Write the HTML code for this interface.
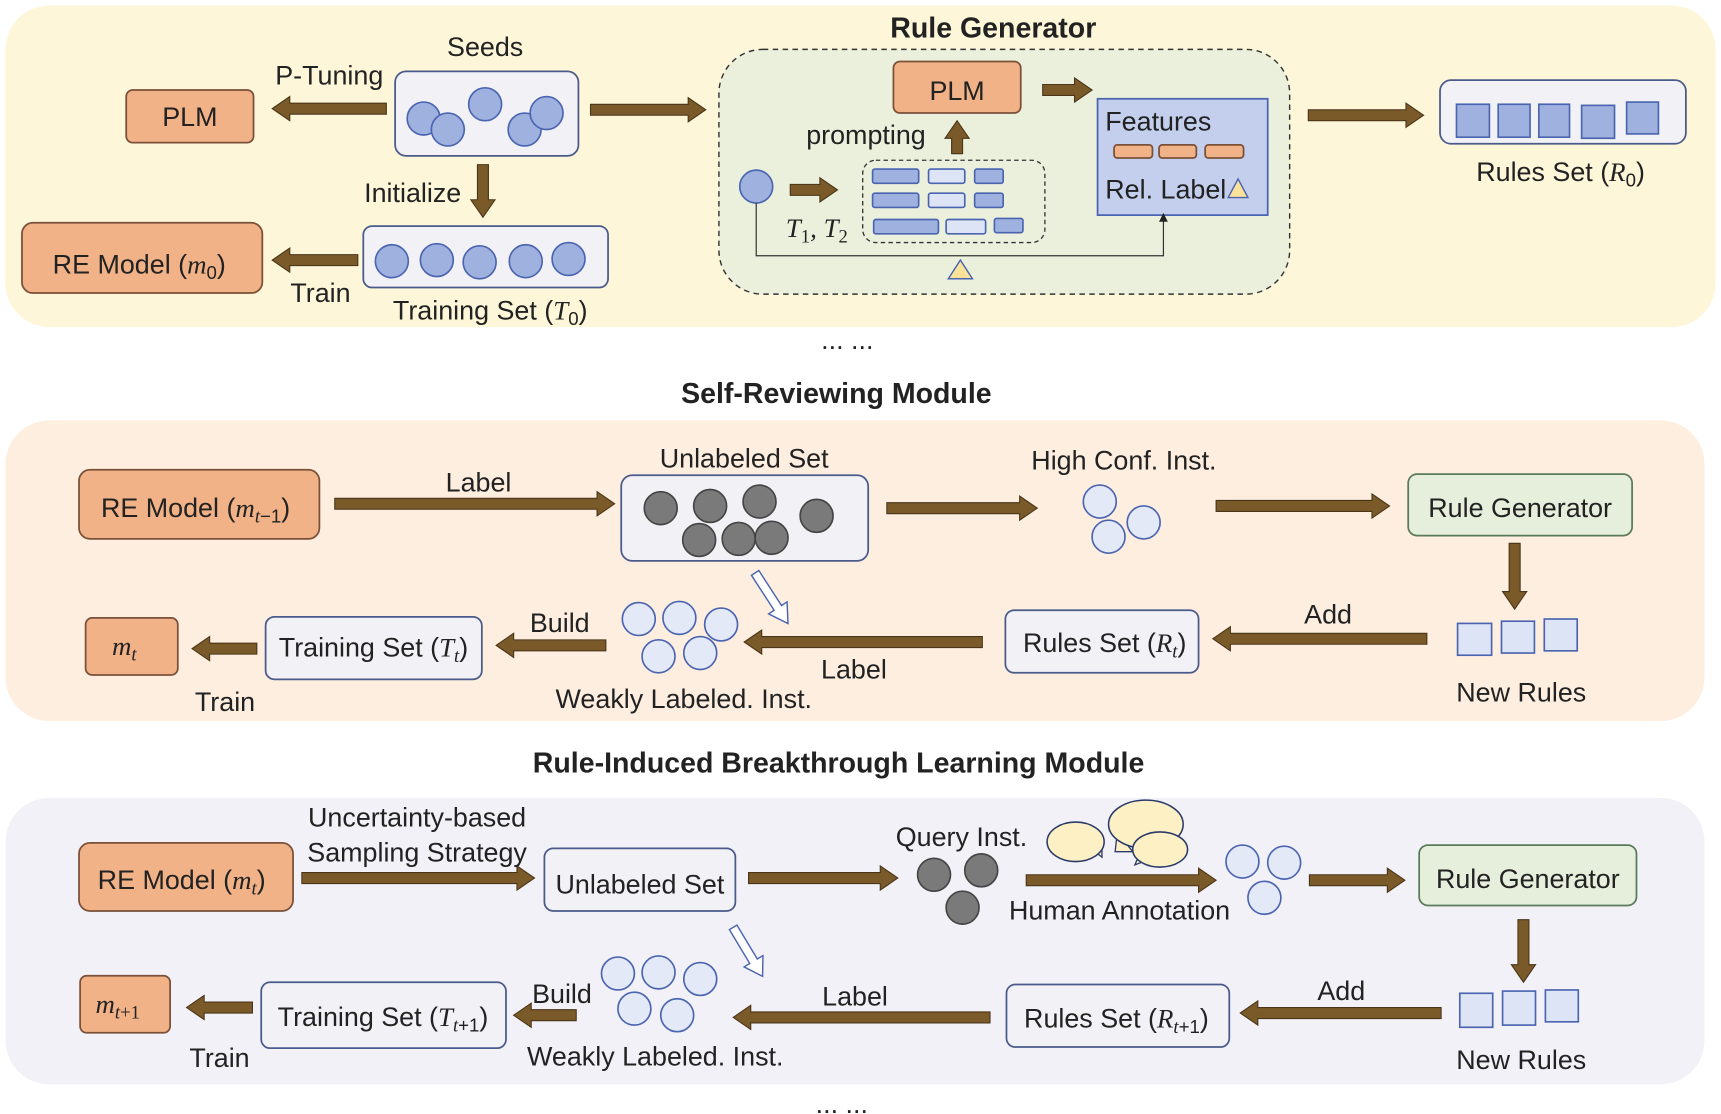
<!DOCTYPE html>
<html><head><meta charset="utf-8"><style>
html,body{margin:0;padding:0;background:#fff;}
svg{display:block;}
text{font-family:"Liberation Sans",sans-serif;font-size:24.5px;fill:#222;}
.b{font-weight:bold;font-size:26px;}
.m{font-family:"Liberation Serif",serif;font-style:italic;}
.ar{fill:#7b5a2a;stroke:#4a3518;stroke-width:1;}
.box{fill:#f2f2f6;stroke:#4a5a8a;stroke-width:1.6;}
.or{fill:#f2b287;stroke:#7a5038;stroke-width:1.6;}
.rg{fill:#e6efdc;stroke:#5a7a5a;stroke-width:1.6;}
.c{fill:#9fb1df;stroke:#4a64b0;stroke-width:1.5;}
.lc{fill:#e4e9f8;stroke:#4a64b0;stroke-width:1.5;}
.dc{fill:#7a7a7a;stroke:#444;stroke-width:1.5;}
.sq{fill:#9fb1df;stroke:#4a64b0;stroke-width:1.5;}
.lsq{fill:#dde4f5;stroke:#4a64b0;stroke-width:1.5;}
</style></head><body>
<svg width="1721" height="1114" viewBox="0 0 1568 1015" preserveAspectRatio="none" xmlns="http://www.w3.org/2000/svg">
<!-- Panel 1 -->
<rect x="5" y="5" width="1558" height="293" rx="40" fill="#fdf6d8"/>
<rect x="655" y="45" width="520" height="223" rx="40" fill="#eaf0dc" stroke="#333" stroke-width="1.3" stroke-dasharray="5,4"/>
<text x="905" y="34" text-anchor="middle" class="b">Rule Generator</text>
<text x="442" y="51" text-anchor="middle">Seeds</text>
<rect x="360" y="65" width="167" height="77" rx="10" class="box"/>
<circle cx="386" cy="108" r="15" class="c"/><circle cx="408" cy="118" r="15" class="c"/><circle cx="442" cy="95" r="15" class="c"/><circle cx="478" cy="118" r="15" class="c"/><circle cx="498" cy="103" r="15" class="c"/>
<rect x="115" y="82" width="116" height="48" rx="6" class="or"/><text x="173" y="115" text-anchor="middle">PLM</text>
<polygon class="ar" points="352,94 264,94 264,88 248,99 264,110 264,104 352,104"/>
<text x="300" y="77" text-anchor="middle">P-Tuning</text>
<polygon class="ar" points="538,95 627,95 627,89 643,100 627,111 627,105 538,105"/>
<polygon class="ar" points="435,150 435,182 429,182 440,198 451,182 445,182 445,150"/>
<text x="376" y="184" text-anchor="middle">Initialize</text>
<rect x="331" y="206" width="223" height="56" rx="8" class="box"/>
<circle cx="357" cy="238" r="15" class="c"/><circle cx="398" cy="237" r="15" class="c"/><circle cx="437" cy="239" r="15" class="c"/><circle cx="479" cy="238" r="15" class="c"/><circle cx="518" cy="236" r="15" class="c"/>
<rect x="20" y="203" width="219" height="64" rx="10" class="or"/>
<text x="48" y="249">RE Model (<tspan class="m">m</tspan><tspan font-size="17" dy="5">0</tspan><tspan dy="-5">)</tspan></text>
<polygon class="ar" points="326,232 264,232 264,226 248,237 264,248 264,242 326,242"/>
<text x="292" y="275" text-anchor="middle">Train</text>
<text x="358" y="291">Training Set (<tspan class="m">T</tspan><tspan font-size="17" dy="5">0</tspan><tspan dy="-5">)</tspan></text>
<!-- inside generator -->
<rect x="814" y="56" width="116" height="47" rx="6" class="or"/><text x="872" y="91" text-anchor="middle">PLM</text>
<polygon class="ar" points="950,77 979,77 979,71 995,82 979,93 979,87 950,87"/>
<rect x="1000" y="90" width="155" height="106" fill="#c4cfee" stroke="#4a64b0" stroke-width="1.6"/>
<text x="1007" y="119">Features</text>
<rect x="1015" y="132" width="35" height="12" rx="3" class="or"/><rect x="1056" y="132" width="34" height="12" rx="3" class="or"/><rect x="1098" y="132" width="35" height="12" rx="3" class="or"/>
<text x="1007" y="181">Rel. Label</text>
<polygon points="1119,180 1128,163 1137,180" fill="#fbe29a" stroke="#4a64b0" stroke-width="1.3"/>
<polygon class="ar" points="867,140 867,126 861,126 872,110 883,126 877,126 877,140"/>
<text x="789" y="131" text-anchor="middle">prompting</text>
<circle cx="689" cy="170" r="15" class="c"/>
<polygon class="ar" points="720,168 747,168 747,162 763,173 747,184 747,178 720,178"/>
<text x="716" y="216" class="m">T<tspan font-size="17" dy="5" font-style="normal">1</tspan><tspan dy="-5">, T</tspan><tspan font-size="17" dy="5" font-style="normal">2</tspan></text>
<rect x="786" y="146" width="166" height="75" rx="12" fill="none" stroke="#333" stroke-width="1.2" stroke-dasharray="4,3"/>
<rect x="795" y="154" width="42" height="13" rx="2" class="sq"/><rect x="846" y="154" width="33" height="13" rx="2" class="lsq"/><rect x="888" y="154" width="26" height="13" rx="2" class="sq"/>
<rect x="795" y="176" width="42" height="13" rx="2" class="sq"/><rect x="846" y="176" width="33" height="13" rx="2" class="lsq"/><rect x="888" y="176" width="26" height="13" rx="2" class="sq"/>
<rect x="796" y="200" width="59" height="13" rx="2" class="sq"/><rect x="862" y="200" width="36" height="13" rx="2" class="lsq"/><rect x="906" y="199" width="26" height="13" rx="2" class="sq"/>
<polyline points="689,185 689,233 1060,233 1060,200" fill="none" stroke="#333" stroke-width="1.1"/>
<polygon points="1056,202 1060,194 1064,202" fill="#222"/>
<polygon points="864,254 875,237 886,254" fill="#fbe29a" stroke="#4a64b0" stroke-width="1.3"/>
<polygon class="ar" points="1192,100 1281,100 1281,94 1297,105 1281,116 1281,110 1192,110"/>
<rect x="1312" y="73" width="224" height="58" rx="10" class="box"/>
<rect x="1327" y="95" width="30" height="30" class="sq"/><rect x="1365" y="95" width="29" height="30" class="sq"/><rect x="1402" y="95" width="28" height="30" class="sq"/><rect x="1441" y="96" width="30" height="30" class="sq"/><rect x="1482" y="93" width="29" height="29" class="sq"/>
<text x="1345" y="165">Rules Set (<tspan class="m">R</tspan><tspan font-size="17" dy="5">0</tspan><tspan dy="-5">)</tspan></text>
<text x="772" y="318" text-anchor="middle">... ...</text>
<!-- Panel 2 -->
<text x="762" y="367" text-anchor="middle" class="b">Self-Reviewing Module</text>
<rect x="5" y="383" width="1548" height="274" rx="40" fill="#fdeee0"/>
<rect x="72" y="428" width="219" height="63" rx="10" class="or"/>
<text x="92" y="471">RE Model (<tspan class="m">m</tspan><tspan font-size="17" dy="5" class="m">t</tspan><tspan font-size="17">−1</tspan><tspan dy="-5">)</tspan></text>
<polygon class="ar" points="305,454 544,454 544,448 560,459 544,470 544,464 305,464"/>
<text x="436" y="448" text-anchor="middle">Label</text>
<text x="678" y="426" text-anchor="middle">Unlabeled Set</text>
<rect x="566" y="433" width="225" height="78" rx="10" class="box"/>
<circle cx="602" cy="463" r="15" class="dc"/><circle cx="647" cy="461" r="15" class="dc"/><circle cx="692" cy="457" r="15" class="dc"/><circle cx="744" cy="470" r="15" class="dc"/><circle cx="637" cy="492" r="15" class="dc"/><circle cx="673" cy="491" r="15" class="dc"/><circle cx="703" cy="490" r="15" class="dc"/>
<polygon class="ar" points="808,458 929,458 929,452 945,463 929,474 929,468 808,468"/>
<text x="1024" y="428" text-anchor="middle">High Conf. Inst.</text>
<circle cx="1002" cy="457" r="15" class="lc"/><circle cx="1042" cy="476" r="15" class="lc"/><circle cx="1010" cy="489" r="15" class="lc"/>
<polygon class="ar" points="1108,456 1250,456 1250,450 1266,461 1250,472 1250,466 1108,466"/>
<rect x="1283" y="432" width="204" height="56" rx="8" class="rg"/><text x="1385" y="471" text-anchor="middle">Rule Generator</text>
<polygon class="ar" points="1375,495 1375,539 1369,539 1380,555 1391,539 1385,539 1385,495"/>
<rect x="1328" y="568" width="31" height="29" class="lsq"/><rect x="1368" y="566" width="30" height="29" class="lsq"/><rect x="1407" y="564" width="30" height="29" class="lsq"/>
<text x="1386" y="639" text-anchor="middle">New Rules</text>
<polygon class="ar" points="1300,577 1121,577 1121,571 1105,582 1121,593 1121,587 1300,587"/>
<text x="1210" y="568" text-anchor="middle">Add</text>
<rect x="916" y="556" width="176" height="57" rx="8" class="box"/>
<text x="932" y="594">Rules Set (<tspan class="m">R</tspan><tspan font-size="17" dy="5" class="m">t</tspan><tspan dy="-5">)</tspan></text>
<polygon class="ar" points="895,580 694,580 694,574 678,585 694,596 694,590 895,590"/>
<text x="778" y="618" text-anchor="middle">Label</text>
<g transform="translate(688,522) rotate(57)"><polygon points="0,-4 38,-4 38,-10 55,0 38,10 38,4 0,4" fill="#fff" stroke="#4a64b0" stroke-width="1.3"/></g>
<circle cx="582" cy="564" r="15" class="lc"/><circle cx="619" cy="563" r="15" class="lc"/><circle cx="657" cy="569" r="15" class="lc"/><circle cx="600" cy="598" r="15" class="lc"/><circle cx="638" cy="595" r="15" class="lc"/>
<text x="623" y="645" text-anchor="middle">Weakly Labeled. Inst.</text>
<polygon class="ar" points="552,583 468,583 468,577 452,588 468,599 468,593 552,593"/>
<text x="510" y="576" text-anchor="middle">Build</text>
<rect x="242" y="562" width="197" height="57" rx="8" class="box"/>
<text x="254" y="598">Training Set (<tspan class="m">T</tspan><tspan font-size="17" dy="5" class="m">t</tspan><tspan dy="-5">)</tspan></text>
<polygon class="ar" points="234,586 191,586 191,580 175,591 191,602 191,596 234,596"/>
<rect x="78" y="563" width="84" height="52" rx="6" class="or"/>
<text x="102" y="597" class="m">m<tspan font-size="17" dy="5">t</tspan></text>
<text x="205" y="648" text-anchor="middle">Train</text>
<!-- Panel 3 -->
<text x="764" y="704" text-anchor="middle" class="b">Rule-Induced Breakthrough Learning Module</text>
<rect x="5" y="727" width="1548" height="261" rx="40" fill="#f3f1f8"/>
<rect x="72" y="768" width="195" height="62" rx="10" class="or"/>
<text x="89" y="810">RE Model (<tspan class="m">m</tspan><tspan font-size="17" dy="5" class="m">t</tspan><tspan dy="-5">)</tspan></text>
<polygon class="ar" points="275,795 471,795 471,789 487,800 471,811 471,805 275,805"/>
<text x="380" y="753" text-anchor="middle">Uncertainty-based</text>
<text x="380" y="785" text-anchor="middle">Sampling Strategy</text>
<rect x="496" y="773" width="174" height="57" rx="8" class="box"/><text x="583" y="814" text-anchor="middle">Unlabeled Set</text>
<polygon class="ar" points="682,795 802,795 802,789 818,800 802,811 802,805 682,805"/>
<text x="876" y="771" text-anchor="middle">Query Inst.</text>
<circle cx="851" cy="797" r="15" class="dc"/><circle cx="894" cy="793" r="15" class="dc"/><circle cx="877" cy="827" r="15" class="dc"/>
<polygon points="1018,758 1016,776 1032,776" fill="#fcf0c4" stroke="#2a3a6a" stroke-width="1.2"/>
<ellipse cx="1044" cy="751" rx="34" ry="22" fill="#fcf0c4" stroke="#2a3a6a" stroke-width="1.4"/>
<polygon points="990,770 1004,781 1004,770" fill="#fcf0c4" stroke="#2a3a6a" stroke-width="1.2"/>
<ellipse cx="980" cy="767" rx="26" ry="18" fill="#fcf0c4" stroke="#2a3a6a" stroke-width="1.4"/>
<polygon points="1040,774 1034,788 1050,782" fill="#fcf0c4" stroke="#2a3a6a" stroke-width="1.2"/>
<ellipse cx="1057" cy="774" rx="25" ry="16" fill="#fcf0c4" stroke="#2a3a6a" stroke-width="1.4"/>
<polygon class="ar" points="935,797 1092,797 1092,791 1108,802 1092,813 1092,807 935,807"/>
<text x="1020" y="838" text-anchor="middle">Human Annotation</text>
<circle cx="1132" cy="785" r="15" class="lc"/><circle cx="1170" cy="786" r="15" class="lc"/><circle cx="1152" cy="818" r="15" class="lc"/>
<polygon class="ar" points="1193,797 1264,797 1264,791 1280,802 1264,813 1264,807 1193,807"/>
<rect x="1293" y="770" width="198" height="55" rx="8" class="rg"/><text x="1392" y="809" text-anchor="middle">Rule Generator</text>
<polygon class="ar" points="1383,838 1383,879 1377,879 1388,895 1399,879 1393,879 1393,838"/>
<rect x="1330" y="905" width="30" height="31" class="lsq"/><rect x="1369" y="903" width="30" height="31" class="lsq"/><rect x="1408" y="902" width="30" height="29" class="lsq"/>
<text x="1386" y="974" text-anchor="middle">New Rules</text>
<polygon class="ar" points="1313,918 1146,918 1146,912 1130,923 1146,934 1146,928 1313,928"/>
<text x="1222" y="911" text-anchor="middle">Add</text>
<rect x="917" y="897" width="203" height="57" rx="8" class="box"/>
<text x="933" y="936">Rules Set (<tspan class="m">R</tspan><tspan font-size="17" dy="5" class="m">t</tspan><tspan font-size="17">+1</tspan><tspan dy="-5">)</tspan></text>
<polygon class="ar" points="902,922 684,922 684,916 668,927 684,938 684,932 902,932"/>
<text x="779" y="916" text-anchor="middle">Label</text>
<g transform="translate(668,845) rotate(59)"><polygon points="0,-4 36,-4 36,-10 52,0 36,10 36,4 0,4" fill="#fff" stroke="#4a64b0" stroke-width="1.3"/></g>
<circle cx="563" cy="887" r="15" class="lc"/><circle cx="600" cy="886" r="15" class="lc"/><circle cx="638" cy="892" r="15" class="lc"/><circle cx="578" cy="919" r="15" class="lc"/><circle cx="617" cy="925" r="15" class="lc"/>
<text x="597" y="971" text-anchor="middle">Weakly Labeled. Inst.</text>
<polygon class="ar" points="525,920 484,920 484,914 468,925 484,936 484,930 525,930"/>
<text x="512" y="914" text-anchor="middle">Build</text>
<rect x="238" y="895" width="223" height="60" rx="8" class="box"/>
<text x="253" y="935">Training Set (<tspan class="m">T</tspan><tspan font-size="17" dy="5" class="m">t</tspan><tspan font-size="17">+1</tspan><tspan dy="-5">)</tspan></text>
<polygon class="ar" points="230,913 186,913 186,907 170,918 186,929 186,923 230,923"/>
<rect x="73" y="889" width="82" height="52" rx="6" class="or"/>
<text x="87" y="923" class="m">m<tspan font-size="17" dy="5">t</tspan><tspan font-size="17" font-style="normal">+1</tspan></text>
<text x="200" y="972" text-anchor="middle">Train</text>
<text x="767" y="1014" text-anchor="middle">... ...</text>
</svg>
</body></html>
